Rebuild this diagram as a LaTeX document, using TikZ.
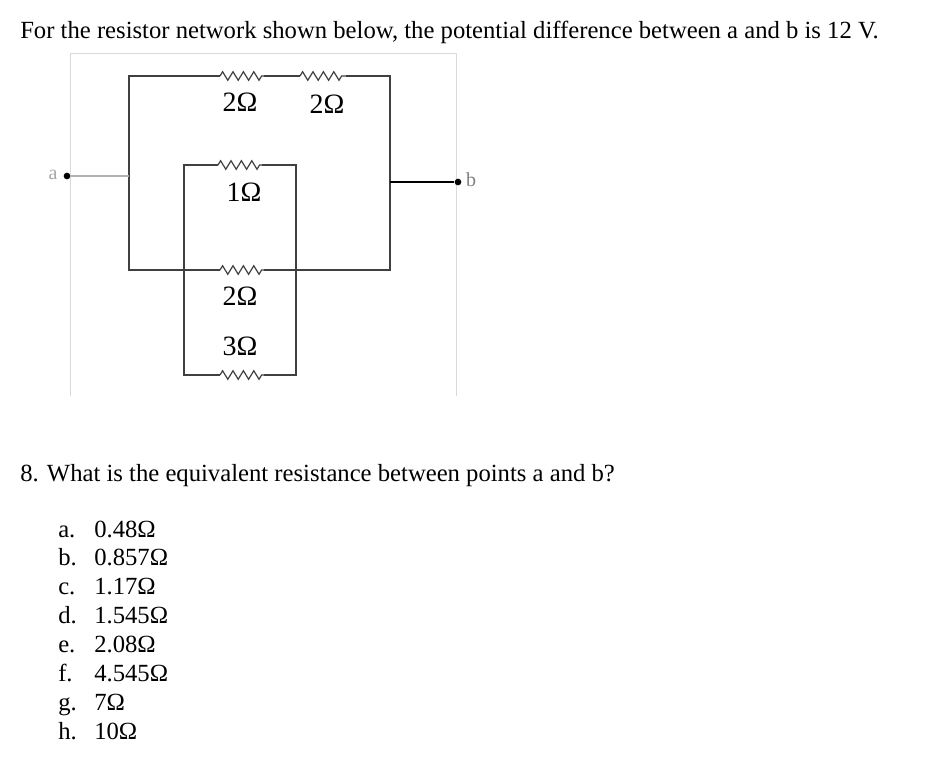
\documentclass[tikz,border=0pt]{standalone}
\usepackage{fontspec}
\setmainfont{Liberation Serif}
\usetikzlibrary{decorations.pathmorphing}
\begin{document}
\begin{tikzpicture}[x=0.75pt,y=-0.75pt,
  wire/.style={draw=black!75,line width=1.2pt},
  res/.style={draw=black!75,line width=0.9pt,decorate,decoration={zigzag,amplitude=3.2pt,segment length=7.8pt}},
  lbl/.style={font=\fontsize{21}{23}\selectfont,inner sep=1pt},
  txt/.style={font=\fontsize{18.5}{21}\selectfont,anchor=base west,inner sep=0pt},
  term/.style={circle,fill=black,inner sep=0pt,minimum size=5pt}]
\useasboundingbox (0,0) rectangle (928,776);
\draw[black!15,line width=0.5pt] (70,53) -- (70,396) (456,53) -- (456,396) (70,53) -- (456,53);
% outer
\coordinate (o1) at (129,76); \coordinate (o2) at (390,76);
\coordinate (o3) at (390,270); \coordinate (o4) at (129,270);
\coordinate (r1a) at (220,76); \coordinate (r1b) at (264,76);
\coordinate (r2a) at (300,76); \coordinate (r2b) at (346,76);
\draw[wire] (r1a) -- (o1) -- (o4) -- (220,270);
\draw[wire] (264,270) -- (o3) -- (o2) -- (r2b);
\draw[wire] (r1b) -- (r2a);
\draw[res] (r1a) -- (r1b);
\draw[res] (r2a) -- (r2b);
\draw[res] (220,270) -- (264,270);
% inner
\coordinate (i1) at (184,165); \coordinate (i2) at (296,165);
\coordinate (i3) at (296,375); \coordinate (i4) at (184,375);
\draw[wire] (218,165) -- (i1) -- (i4) -- (220,375);
\draw[wire] (264,375) -- (i3) -- (i2) -- (262,165);
\draw[res] (218,165) -- (262,165);
\draw[res] (220,375) -- (264,375);
% terminals
\node[term] (a) at (67,176) {};
\node[text=black!35,font=\fontsize{15}{17}\selectfont] (al) at (53,175) {a};
\node[term] (b) at (458,182) {};
\node[text=black!50,font=\fontsize{15}{17}\selectfont] (bl) at (471,180) {b};
\draw[black!30,line width=0.8pt] (a) -- (129,176);
\draw[black,line width=1pt] (390,182) -- (b);
% labels
\node[lbl] (l1) at (240,102) {2Ω};
\node[lbl] (l2) at (327,104) {2Ω};
\node[lbl] (l3) at (244,192) {1Ω};
\node[lbl] (l4) at (240,296) {2Ω};
\node[lbl] (l5) at (240,346) {3Ω};
% text
\node[txt] (t1) at (20,38) {For the resistor network shown below, the potential difference between a and b is 12 V.};
\node[txt] (t2) at (20,481) {8. What is the equivalent resistance between points a and b?};
\foreach \y/\k/\v in {537/a./0.48Ω,565/b./0.857Ω,594/c./1.17Ω,623/d./1.545Ω,652/e./2.08Ω,681/f./4.545Ω,710/g./7Ω,739/h./10Ω}{
  \node[txt] at (58,\y) {\k};
  \node[txt] at (94,\y) {\v};
}
\end{tikzpicture}
\end{document}
